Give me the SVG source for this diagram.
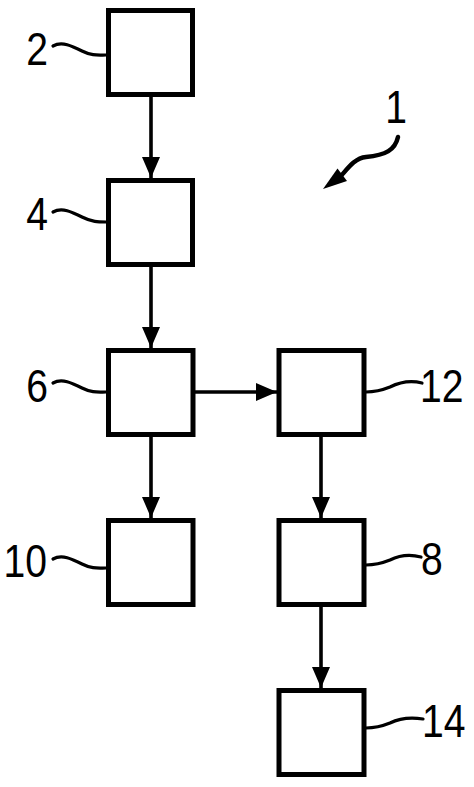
<svg xmlns="http://www.w3.org/2000/svg" width="474" height="787" viewBox="0 0 474 787">
<style>
.box{fill:#fff;stroke:#000;stroke-width:5;stroke-linejoin:miter}
.conn{fill:none;stroke:#000;stroke-width:3.6}
.lead{fill:none;stroke:#000;stroke-width:3.2;stroke-linecap:round}
.lbl{font-family:"Liberation Sans",Arial,sans-serif;font-size:46px;fill:#000}
</style>
<defs>
<marker id="ah" markerUnits="userSpaceOnUse" markerWidth="24" markerHeight="22" refX="21" refY="0" viewBox="0 -11 24 22" orient="auto" overflow="visible">
<path d="M0,-9 Q11,-4.2 21,0 Q11,4.2 0,9 Z" fill="#000"/>
</marker>
</defs>
<g id="connectors">
<line class="conn" x1="151" y1="97" x2="151" y2="178" marker-end="url(#ah)"/>
<line class="conn" x1="151" y1="267" x2="151" y2="348" marker-end="url(#ah)"/>
<line class="conn" x1="151" y1="437" x2="151" y2="518" marker-end="url(#ah)"/>
<line class="conn" x1="195" y1="392" x2="277" y2="392" marker-end="url(#ah)"/>
<line class="conn" x1="321" y1="437" x2="321" y2="518" marker-end="url(#ah)"/>
<line class="conn" x1="321" y1="607" x2="321" y2="688" marker-end="url(#ah)"/>
</g>
<g id="node2">
<rect class="box" x="108.5" y="10.5" width="84" height="84"/>
<path class="lead" d="M53,46 C62,41 72,46 82,51 C92,56 98,55 106,55"/>
<text class="lbl" text-anchor="end" transform="translate(48,65) scale(0.85,1)">2</text>
</g>
<g id="node4">
<rect class="box" x="108.5" y="180.5" width="84" height="84"/>
<path class="lead" d="M53,212 C62,207 72,212 82,217 C92,222 98,222 106,222"/>
<text class="lbl" text-anchor="end" transform="translate(48,230) scale(0.85,1)">4</text>
</g>
<g id="node6">
<rect class="box" x="108.5" y="350.5" width="84.5" height="84"/>
<path class="lead" d="M53,383 C62,378 72,383 82,388 C92,393 98,392 106,392"/>
<text class="lbl" text-anchor="end" transform="translate(48,402) scale(0.85,1)">6</text>
</g>
<g id="node10">
<rect class="box" x="108.5" y="520.5" width="84.5" height="84"/>
<path class="lead" d="M53,559 C62,554 72,559 82,564 C92,569 98,568 106,568"/>
<text class="lbl" text-anchor="end" transform="translate(47,577) scale(0.85,1)">10</text>
</g>
<g id="node12">
<rect class="box" x="279" y="350.5" width="85" height="84"/>
<path class="lead" d="M366,392 C374,392 380,391 390,387 C400,382 410,380 422,383"/>
<text class="lbl" text-anchor="start" transform="translate(420,402) scale(0.85,1)">12</text>
</g>
<g id="node8">
<rect class="box" x="279" y="520.5" width="85" height="84"/>
<path class="lead" d="M366,565 C374,565 380,564 390,560 C400,555 410,554 421,557"/>
<text class="lbl" text-anchor="start" transform="translate(421,575) scale(0.85,1)">8</text>
</g>
<g id="node14">
<rect class="box" x="279" y="690.5" width="85" height="84"/>
<path class="lead" d="M366,728 C374,728 380,727 390,723 C400,718 410,717 423,719"/>
<text class="lbl" text-anchor="start" transform="translate(422,737) scale(0.85,1)">14</text>
</g>
<g id="label1">
<text class="lbl" text-anchor="middle" transform="translate(396,123) scale(0.85,1)">1</text>
<path fill="none" stroke="#000" stroke-width="4.5" stroke-linecap="round" d="M398,137 C395,150 386,155 366,157 C355,158 348,168 341,176"/>
<polygon points="323,189 347,181 337.5,168.5" fill="#000"/>
</g>
</svg>
